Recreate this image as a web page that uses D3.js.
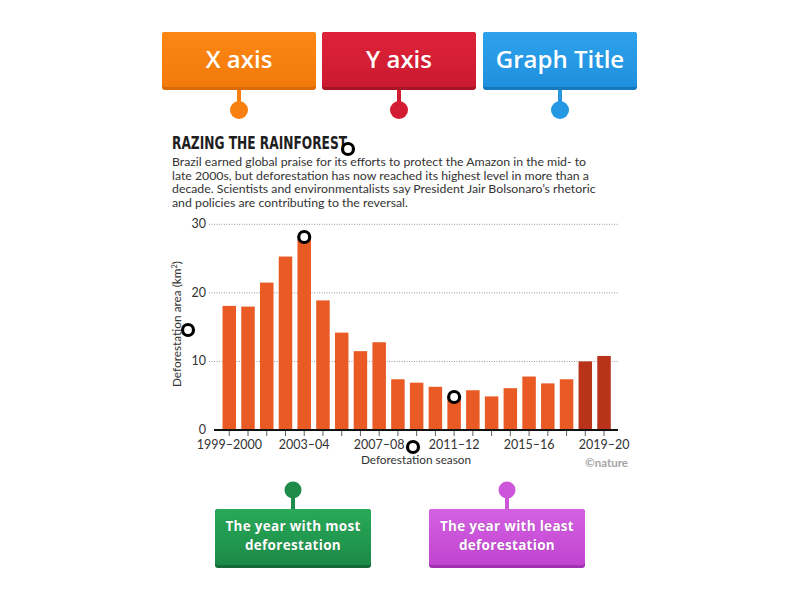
<!DOCTYPE html>
<html>
<head>
<meta charset="UTF-8">
<title>Razing the rainforest</title>
<script src="https://d3js.org/d3.v7.min.js"></script>
<style>
  body { margin: 0; background: #fff; }
  svg { display: block; }
</style>
</head>
<body>
<svg id="chart"></svg>
<script>
// seasons and deforestation area (thousand km2)
const seasons = ["1999–2000","2000–01","2001–02","2002–03","2003–04","2004–05","2005–06",
  "2006–07","2007–08","2008–09","2009–10","2010–11","2011–12","2012–13","2013–14",
  "2014–15","2015–16","2016–17","2017–18","2018–19","2019–20"];
const area = [18.1, 18.0, 21.5, 25.3, 27.8, 18.9, 14.2, 11.5, 12.8, 7.4, 6.9, 6.3, 4.6,
  5.8, 4.9, 6.1, 7.8, 6.8, 7.4, 10.0, 10.8];
const labelledSeasons = ["1999–2000","2003–04","2007–08","2011–12","2015–16","2019–20"];
const yTicks = [0, 10, 20, 30];
const darkSeasons = ["2018–19","2019–20"];

const subtitle = [
  "Brazil earned global praise for its efforts to protect the Amazon in the mid- to",
  "late 2000s, but deforestation has now reached its highest level in more than a",
  "decade. Scientists and environmentalists say President Jair Bolsonaro’s rhetoric",
  "and policies are contributing to the reversal."
];

// the quiz labels
const topLabels = [
  {text: "X axis", x: 162, c1: "#fd8615", c2: "#f27a0a", edge: "#d96a08", dot: "#f88010"},
  {text: "Y axis", x: 322, c1: "#de2239", c2: "#cb1a30", edge: "#a91528", dot: "#d31c34"},
  {text: "Graph Title", x: 483, c1: "#2ea2ec", c2: "#1f90dd", edge: "#1878bd", dot: "#2598e4"}
];
const bottomLabels = [
  {lines: ["The year with most", "deforestation"], x: 215, c1: "#29a959", c2: "#1b8a47", edge: "#146b37", dot: "#1e8b4b"},
  {lines: ["The year with least", "deforestation"], x: 429, c1: "#d461e2", c2: "#c144d0", edge: "#a231b1", dot: "#cc55da"}
];

const W = 800, H = 600;
const svg = d3.select("#chart").attr("width", W).attr("height", H);
const defs = svg.append("defs");

// ---- chart scales ----
const x = d3.scaleBand()
  .domain(seasons)
  .range([219.9, 613.4])
  .paddingInner(0.28)
  .paddingOuter(0.14);

const y = d3.scaleLinear()
  .domain([0, 30])
  .range([430, 224.3]);

const font = "Lato, 'Open Sans', sans-serif";

// title + subtitle
svg.append("text")
  .attr("x", 172).attr("y", 149)
  .attr("font-family", "'DejaVu Sans Condensed', 'DejaVu Sans', sans-serif")
  .attr("font-weight", "bold")
  .attr("font-size", 18)
  .attr("fill", "#1e1e1e")
  .attr("textLength", 175)
  .attr("lengthAdjust", "spacingAndGlyphs")
  .text("RAZING THE RAINFOREST");

svg.append("g").selectAll("text")
  .data(subtitle)
  .join("text")
  .attr("x", 172)
  .attr("y", (d, i) => 166 + i * 13.6)
  .attr("font-family", font)
  .attr("font-size", 12.3)
  .attr("fill", "#333")
  .text(d => d);

// gridlines
svg.append("g").selectAll("line")
  .data(yTicks.filter(d => d > 0))
  .join("line")
  .attr("x1", 209).attr("x2", 618)
  .attr("y1", d => y(d)).attr("y2", d => y(d))
  .attr("stroke", "#9a9a9a")
  .attr("stroke-width", 1)
  .attr("stroke-dasharray", "1,1.5");

// y tick labels
svg.append("g").selectAll("text")
  .data(yTicks)
  .join("text")
  .attr("x", 206)
  .attr("y", d => y(d) + 4)
  .attr("text-anchor", "end")
  .attr("font-family", font)
  .attr("font-size", 12.5)
  .attr("fill", "#333")
  .text(d => d);

// bars
svg.append("g").selectAll("rect")
  .data(seasons)
  .join("rect")
  .attr("x", d => x(d))
  .attr("width", x.bandwidth())
  .attr("y", (d, i) => y(area[i]))
  .attr("height", (d, i) => y(0) - y(area[i]))
  .attr("fill", d => darkSeasons.includes(d) ? "#b9321a" : "#e95a25");

// x axis
const xAxis = svg.append("g")
  .attr("transform", `translate(0, ${y(0)})`)
  .call(d3.axisBottom(x)
    .tickSize(6)
    .tickFormat(d => labelledSeasons.includes(d) ? d : ""));
xAxis.select(".domain").remove();
xAxis.selectAll(".tick line").attr("stroke", "#333").attr("stroke-width", 0.8);
xAxis.selectAll(".tick text")
  .attr("font-family", font)
  .attr("font-size", 12.5)
  .attr("fill", "#333")
  .attr("dy", "0.8em");
xAxis.append("line")
  .attr("x1", 214).attr("x2", 618)
  .attr("stroke", "#111").attr("stroke-width", 2.2);

// axis titles
svg.append("text")
  .attr("transform", `translate(181, 324) rotate(-90)`)
  .attr("text-anchor", "middle")
  .attr("font-family", font)
  .attr("font-size", 11.8)
  .attr("fill", "#333")
  .html("Deforestation area (km<tspan dy='-4' font-size='7.5'>2</tspan><tspan dy='4'>)</tspan>");

svg.append("text")
  .attr("x", 416).attr("y", 464)
  .attr("text-anchor", "middle")
  .attr("font-family", font)
  .attr("font-size", 11.8)
  .attr("fill", "#333")
  .text("Deforestation season");

svg.append("text")
  .attr("x", 628).attr("y", 467)
  .attr("text-anchor", "end")
  .attr("font-family", font)
  .attr("font-weight", "bold")
  .attr("font-size", 11.5)
  .attr("fill", "#a5a5a5")
  .text("©nature");

// ---- quiz pins ----
const pins = [
  [348, 149],
  [x(seasons[4]) + x.bandwidth() / 2, 237],
  [188, 330],
  [413, 447],
  [x(seasons[12]) + x.bandwidth() / 2, 397]
];
svg.append("g").selectAll("circle")
  .data(pins)
  .join("circle")
  .attr("cx", d => d[0]).attr("cy", d => d[1])
  .attr("r", 5.5)
  .attr("fill", "#fff")
  .attr("stroke", "#000")
  .attr("stroke-width", 3.2);

// ---- labels ----
function gradient(id, c1, c2) {
  const g = defs.append("linearGradient").attr("id", id)
    .attr("x1", 0).attr("y1", 0).attr("x2", 0).attr("y2", 1);
  g.append("stop").attr("offset", "0%").attr("stop-color", c1);
  g.append("stop").attr("offset", "100%").attr("stop-color", c2);
}

function box(g, d, id, bx, by, bw, bh) {
  gradient(id, d.c1, d.c2);
  g.append("rect")
    .attr("x", bx).attr("y", by).attr("width", bw).attr("height", bh)
    .attr("rx", 3).attr("fill", d.edge);
  g.append("rect")
    .attr("x", bx).attr("y", by).attr("width", bw).attr("height", bh - 3)
    .attr("rx", 3).attr("fill", `url(#${id})`);
}

topLabels.forEach((d, i) => {
  const g = svg.append("g");
  const cx = d.x + 77;
  g.append("rect").attr("x", cx - 2).attr("y", 88).attr("width", 4).attr("height", 16).attr("fill", d.dot);
  g.append("circle").attr("cx", cx).attr("cy", 110).attr("r", 9).attr("fill", d.dot);
  box(g, d, "tg" + i, d.x, 32, 154, 58);
  g.append("text")
    .attr("x", cx).attr("y", 68)
    .attr("text-anchor", "middle")
    .attr("font-family", "'Open Sans', sans-serif")
    .attr("font-weight", 600)
    .attr("font-size", 24)
    .attr("fill", "#fff")
    .text(d.text);
});

bottomLabels.forEach((d, i) => {
  const g = svg.append("g");
  const cx = d.x + 78;
  g.append("rect").attr("x", cx - 2).attr("y", 492).attr("width", 4).attr("height", 18).attr("fill", d.dot);
  g.append("circle").attr("cx", cx).attr("cy", 490).attr("r", 8.5).attr("fill", d.dot);
  box(g, d, "bg" + i, d.x, 509, 156, 59);
  d.lines.forEach((l, j) => {
    g.append("text")
      .attr("x", cx).attr("y", 531 + j * 18.5)
      .attr("text-anchor", "middle")
      .attr("font-family", "'Open Sans', sans-serif")
      .attr("font-weight", "bold")
      .attr("font-size", 13.5)
      .attr("letter-spacing", 0.3)
      .attr("fill", "#fff")
      .attr("stroke", "rgba(0,0,0,0.25)")
      .attr("stroke-width", 0.6)
      .attr("paint-order", "stroke")
      .text(l);
  });
});
</script>
</body>
</html>
